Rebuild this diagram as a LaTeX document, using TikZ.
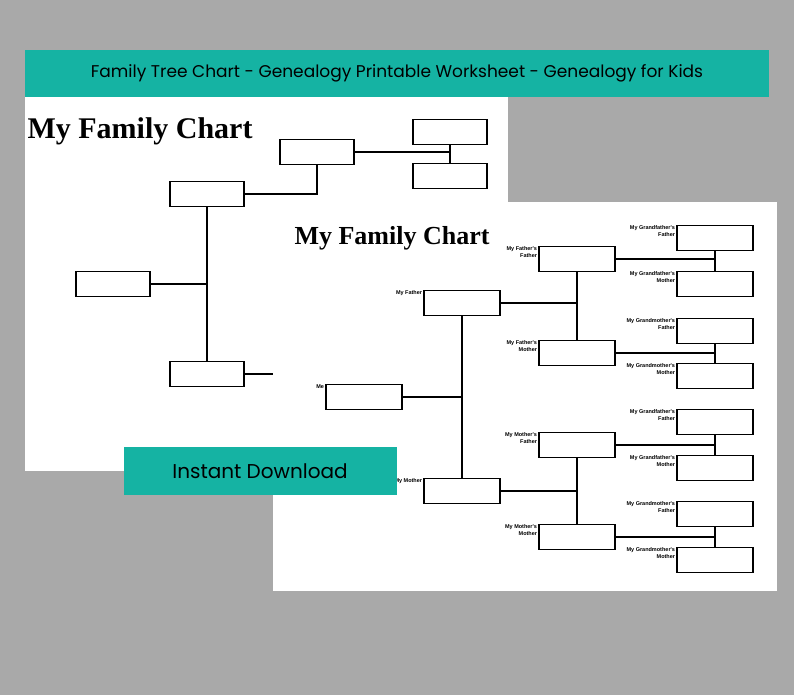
\documentclass[tikz,border=0pt]{standalone}
\usepackage{fontspec}
\setmainfont{Liberation Serif}
\newfontfamily\banfont{Poppins}
\newfontfamily\labfont{Liberation Sans}
\definecolor{teal1}{HTML}{15B3A3}
\definecolor{bg}{HTML}{A9A9A9}
\tikzset{
 box/.style={draw,line width=1.6pt,fill=white,minimum width=#1,minimum height=25pt,inner sep=0pt},
 box/.default=76pt,
 lab/.style={font=\labfont\fontsize{5.5}{6.5}\selectfont\bfseries,align=right,anchor=north east,inner sep=1pt},
 conn/.style={line width=1.3pt},
 ttl/.style={font=\bfseries\itshape,anchor=center}
}
\begin{document}
\begin{tikzpicture}[x=1pt,y=-1pt]
\useasboundingbox (0,0) rectangle (794,695);
\fill[bg] (0,0) rectangle (794,695);
% banner
\fill[teal1] (25,50) rectangle (769,97);
\node[font=\banfont\fontsize{17}{20}\selectfont] (ban) at (397,73) {Family Tree Chart - Genealogy Printable Worksheet - Genealogy for Kids};
% back sheet
\fill[white] (25,97) rectangle (508,471);
\node[ttl,font=\fontsize{30}{32}\selectfont\bfseries] (t1) at (140,131) {My Family Chart};
\node[box=74pt] (b1) at (317,152) {};
\node[box=74pt] (b2) at (450,132) {};
\node[box=74pt] (b3) at (450,176) {};
\node[box=74pt] (b4) at (207,194) {};
\node[box=74pt] (b5) at (113,284) {};
\node[box=74pt] (b6) at (207,374) {};
\coordinate (s1) at (280,374);
\draw[conn] (b1.east) -- (b1.east -| b2) ;
\draw[conn] (b2.south) -- (b3.north);
\draw[conn] (b1.south) |- (b4.east);
\draw[conn] (b4.south) -- (b6.north);
\draw[conn] (b5.east) -- (b5.east -| b4);
\draw[conn] (b6.east) -- (s1);
% front sheet
\fill[white] (273,202) rectangle (777,591);
\node[ttl,font=\fontsize{26}{28}\selectfont\bfseries] (t2) at (392,238) {My Family Chart};
\node[box] (ff) at (577,259) {};
\node[box] (fa) at (462,303) {};
\node[box] (fm) at (577,353) {};
\node[box] (me) at (364,397) {};
\node[box] (mf) at (577,445) {};
\node[box] (mo) at (462,491) {};
\node[box] (mm) at (577,537) {};
\node[box] (g1) at (715,238) {};
\node[box] (g2) at (715,284) {};
\node[box] (g3) at (715,331) {};
\node[box] (g4) at (715,376) {};
\node[box] (g5) at (715,422) {};
\node[box] (g6) at (715,468) {};
\node[box] (g7) at (715,514) {};
\node[box] (g8) at (715,560) {};
\foreach \p/\a/\b in {ff/g1/g2,fm/g3/g4,mf/g5/g6,mm/g7/g8}{
 \draw[conn] (\p.east) -- (\p.east -| \a);
 \draw[conn] (\a.south) -- (\b.north);
}
\draw[conn] (fa.east) -- (fa.east -| ff);
\draw[conn] (ff.south) -- (fm.north);
\draw[conn] (mo.east) -- (mo.east -| mf);
\draw[conn] (mf.south) -- (mm.north);
\draw[conn] (fa.south) -- (mo.north);
\draw[conn] (me.east) -- (me.east -| fa);
% labels
\node[lab] (lff) at (ff.north west) {My Father's\\Father};
\node[lab] (lfa) at (fa.north west) {My Father};
\node[lab] (lfm) at (fm.north west) {My Father's\\Mother};
\node[lab] (lme) at (me.north west) {Me};
\node[lab] (lmf) at (mf.north west) {My Mother's\\Father};
\node[lab] (lmo) at (mo.north west) {My Mother};
\node[lab] (lmm) at (mm.north west) {My Mother's\\Mother};
\foreach \g/\t in {g1/Grandfather's\\Father,g2/Grandfather's\\Mother,g3/Grandmother's\\Father,g4/Grandmother's\\Mother,g5/Grandfather's\\Father,g6/Grandfather's\\Mother,g7/Grandmother's\\Father,g8/Grandmother's\\Mother}{
 \node[lab] (l\g) at (\g.north west) {My \t};
}
% instant download
\fill[teal1] (124,447) rectangle (397,495);
\node[font=\banfont\fontsize{20}{24}\selectfont] (dl) at (260,471) {Instant Download};
\end{tikzpicture}
\end{document}
